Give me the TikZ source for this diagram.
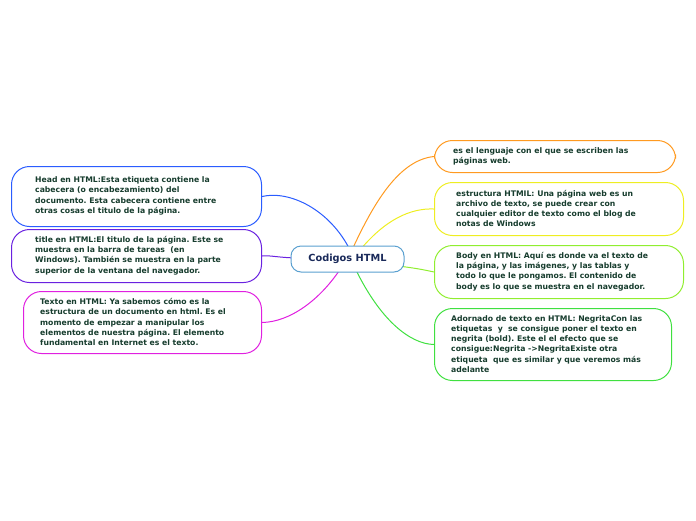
\documentclass[tikz,border=0pt]{standalone}
\usepackage{fontspec}
\setmainfont{DejaVu Sans}[BoldFont={DejaVu Sans Bold}]
\frenchspacing
\begin{document}
\begin{tikzpicture}[x=1pt,y=-1pt,
  box/.style={draw,line width=1pt,rounded corners=18pt,fill=white,minimum height=#1,anchor=north west,inner sep=0pt},
  txt/.style={anchor=west,align=left,font=\fontsize{7.7}{10.2}\selectfont\bfseries,text=tcol,inner sep=0pt},
  link/.style={line width=1pt}]
\definecolor{tcol}{HTML}{173D2E}
\definecolor{colB}{HTML}{2A5CFF}\definecolor{colP}{HTML}{6A22E0}\definecolor{colM}{HTML}{E020E0}
\definecolor{colO}{HTML}{FF9A20}\definecolor{colY}{HTML}{EEEE22}\definecolor{colL}{HTML}{90EE30}\definecolor{colG}{HTML}{40E040}
\definecolor{colC}{HTML}{5AA0D0}\definecolor{colN}{HTML}{1A2A5A}
\useasboundingbox (0,0) rectangle (696,520);
% boxes
\node[box=60pt,draw=colB,minimum width=250pt] (b1) at (11,166) {};
\node[box=53pt,draw=colP,minimum width=250pt] (b2) at (11,229) {};
\node[box=62pt,draw=colM,minimum width=238pt] (b3) at (23,291) {};
\node[box=32pt,draw=colO,minimum width=241pt] (r1) at (434,140) {};
\node[box=53pt,draw=colY,minimum width=249pt] (r2) at (434,182) {};
\node[box=53pt,draw=colL,minimum width=249pt] (r3) at (434,245) {};
\node[box=72pt,draw=colG,minimum width=237pt] (r4) at (434,308) {};
% connectors
\draw[link,colB] (350,250) .. controls (330,210) and (290,190) .. (b1.east);
\draw[link,colP] (300,258) .. controls (280,258) and (270,255) .. (b2.east);
\draw[link,colM] (341,268) .. controls (320,300) and (290,322) .. (b3.east);
\draw[link,colO] (352,250) .. controls (375,200) and (400,160) .. (r1.west);
\draw[link,colY] (360,250) .. controls (385,220) and (410,208) .. (r2.west);
\draw[link,colL] (398,266) .. controls (415,268) and (425,270) .. (r3.west);
\draw[link,colG] (355,268) .. controls (380,320) and (410,344) .. (r4.west);
\node[line width=1pt,rounded corners=10pt,minimum width=113pt,minimum height=26pt,inner sep=0pt,
  draw=colC,fill=white,font=\fontsize{9.8}{11}\selectfont\bfseries,text=colN] (c) at (347.5,259) {Codigos HTML};
% texts
\node[txt] (t1) at (35,196) {Head en HTML:Esta etiqueta contiene la\\cabecera (o encabezamiento) del\\documento. Esta cabecera contiene entre\\otras cosas el titulo de la página.};
\node[txt] (t2) at (35,255.5) {title en HTML:El titulo de la página. Este se\\muestra en la barra de tareas\ \ (en\\Windows). También se muestra en la parte\\superior de la ventana del navegador.};
\node[txt] (t3) at (40,322) {Texto en HTML: Ya sabemos cómo es la\\estructura de un documento en html. Es el\\momento de empezar a manipular los\\elementos de nuestra página. El elemento\\fundamental en Internet es el texto.};
\node[txt] (u1) at (453,156.5) {es el lenguaje con el que se escriben las\\páginas web.};
\node[txt] (u2) at (456,208.5) {estructura HTMIL: Una página web es un\\archivo de texto, se puede crear con\\cualquier editor de texto como el blog de\\notas de Windows};
\node[txt] (u3) at (456,271.5) {Body en HTML: Aquí es donde va el texto de\\la página, y las imágenes, y las tablas y\\todo lo que le pongamos. El contenido de\\body es lo que se muestra en el navegador.};
\node[txt] (u4) at (451,344) {Adornado de texto en HTML: NegritaCon las\\etiquetas\ \ y\ \ se consigue poner el texto en\\negrita (bold). Este el el efecto que se\\consigue:Negrita ->NegritaExiste otra\\etiqueta\ \ que es similar y que veremos más\\adelante};
\end{tikzpicture}
\end{document}
